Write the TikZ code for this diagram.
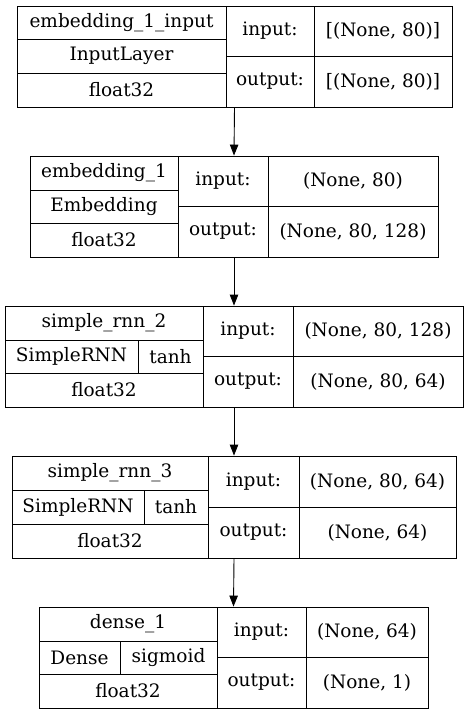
\documentclass[tikz,border=0pt]{standalone}
\usepackage{fontspec}
\setmainfont{DejaVu Serif}
\usetikzlibrary{arrows.meta}
\tikzset{
  cell/.style={draw, line width=0.9pt, inner sep=0pt, font=\fontsize{18.5}{22}\selectfont},
  arr/.style={line width=0.9pt, -{Triangle[length=11pt,width=8.5pt]}}
}
\newcommand\cellbox[6]{\node[cell, minimum width={#4-#2}, minimum height={#5-#3}] (#1) at ({(#2+#4)/2},{(#3+#5)/2}) {#6};}
\begin{document}
\begin{tikzpicture}[x=1pt,y=-1pt]
\useasboundingbox (0,0) rectangle (468,714);
% box 1
\cellbox{box1}{17}{6}{452}{107}{}
\cellbox{b1name}{17}{6}{226}{39}{embedding\_1\_input}
\cellbox{b1type}{17}{39}{226}{73}{InputLayer}
\cellbox{b1dt}{17}{73}{226}{107}{float32}
\cellbox{b1in}{226}{6}{314}{56}{input:}
\cellbox{b1inv}{314}{6}{452}{56}{[(None, 80)]}
\cellbox{b1out}{226}{56}{314}{107}{output:}
\cellbox{b1outv}{314}{56}{452}{107}{[(None, 80)]}
% box 2
\cellbox{box2}{30}{156}{438}{257}{}
\cellbox{b2name}{30}{156}{178}{190}{embedding\_1}
\cellbox{b2type}{30}{190}{178}{223}{Embedding}
\cellbox{b2dt}{30}{223}{178}{257}{float32}
\cellbox{b2in}{178}{156}{268}{206}{input:}
\cellbox{b2inv}{268}{156}{438}{206}{(None, 80)}
\cellbox{b2out}{178}{206}{268}{257}{output:}
\cellbox{b2outv}{268}{206}{438}{257}{(None, 80, 128)}
% box 3
\cellbox{box3}{5}{306}{463}{407}{}
\cellbox{b3name}{5}{306}{203}{340}{simple\_rnn\_2}
\cellbox{b3type}{5}{340}{138}{373}{SimpleRNN}
\cellbox{b3act}{138}{340}{203}{373}{tanh}
\cellbox{b3dt}{5}{373}{203}{407}{float32}
\cellbox{b3in}{203}{306}{293}{356}{input:}
\cellbox{b3inv}{293}{306}{463}{356}{(None, 80, 128)}
\cellbox{b3out}{203}{356}{293}{407}{output:}
\cellbox{b3outv}{293}{356}{463}{407}{(None, 80, 64)}
% box 4
\cellbox{box4}{12}{456}{456}{558}{}
\cellbox{b4name}{12}{456}{208}{490}{simple\_rnn\_3}
\cellbox{b4type}{12}{490}{144}{524}{SimpleRNN}
\cellbox{b4act}{144}{490}{208}{524}{tanh}
\cellbox{b4dt}{12}{524}{208}{558}{float32}
\cellbox{b4in}{208}{456}{299}{507}{input:}
\cellbox{b4inv}{299}{456}{456}{507}{(None, 80, 64)}
\cellbox{b4out}{208}{507}{299}{558}{output:}
\cellbox{b4outv}{299}{507}{456}{558}{(None, 64)}
% box 5
\cellbox{box5}{39}{607}{428}{708}{}
\cellbox{b5name}{39}{607}{217}{641}{dense\_1}
\cellbox{b5type}{39}{641}{120}{674}{Dense}
\cellbox{b5act}{120}{641}{217}{674}{sigmoid}
\cellbox{b5dt}{39}{674}{217}{708}{float32}
\cellbox{b5in}{217}{607}{306}{657}{input:}
\cellbox{b5inv}{306}{607}{428}{657}{(None, 64)}
\cellbox{b5out}{217}{657}{306}{708}{output:}
\cellbox{b5outv}{306}{657}{428}{708}{(None, 1)}
% arrows
\draw[arr] (box1.south) -- (box2.north);
\draw[arr] (box2.south) -- (box3.north);
\draw[arr] (box3.south) -- (box4.north);
\draw[arr] (box4.south) -- (box5.north);
\end{tikzpicture}
\end{document}
